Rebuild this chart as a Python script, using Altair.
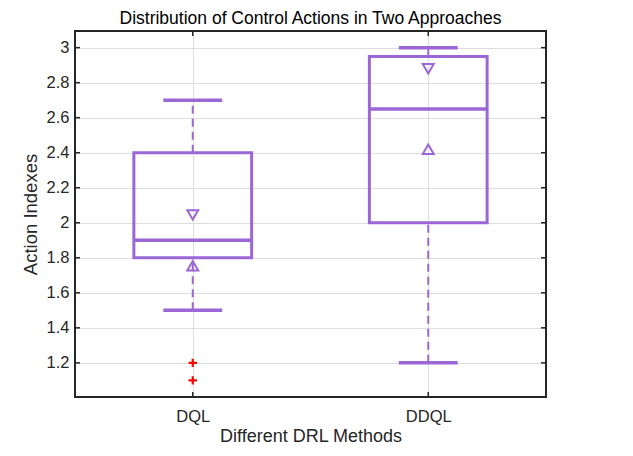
import altair as alt
import pandas as pd

# ---- data ----
categories = ["DQL", "DDQL"]
positions = [1, 2]
q1 = [1.8, 2.0]
median = [1.9, 2.65]
q3 = [2.4, 2.95]
whisker_low = [1.5, 1.2]
whisker_high = [2.7, 3.0]
notch_low = [1.755, 2.42]
notch_high = [2.045, 2.88]
outlier_cat = ["DQL", "DQL"]
outlier_val = [1.2, 1.1]
y_ticks = [1.2, 1.4, 1.6, 1.8, 2.0, 2.2, 2.4, 2.6, 2.8, 3.0]

PURPLE = "#9b67d6"
FRAME = "#262626"
FONT = "Liberation Sans"
W, H = 471, 366
BOX_HALF = 0.25
CAP_HALF = 0.125

boxes = pd.DataFrame({
    "cat": categories, "pos": positions, "q1": q1, "median": median, "q3": q3,
    "wlo": whisker_low, "whi": whisker_high, "nlo": notch_low, "nhi": notch_high,
})
boxes["xlo"] = boxes["pos"] - BOX_HALF
boxes["xhi"] = boxes["pos"] + BOX_HALF
boxes["clo"] = boxes["pos"] - CAP_HALF
boxes["chi"] = boxes["pos"] + CAP_HALF

pos_of = dict(zip(categories, positions))
outliers = pd.DataFrame({"pos": [pos_of[c] for c in outlier_cat], "val": outlier_val})
yt = pd.DataFrame({"v": y_ticks})
xt = pd.DataFrame({"p": positions})
one = pd.DataFrame({"k": [0]})

label_expr = " : ".join(
    [f"datum.value == {p} ? '{c}'" for p, c in zip(positions, categories)] + ["''"]
)

xscale = alt.Scale(domain=[0.5, 2.5], nice=False, zero=False)
yscale = alt.Scale(domain=[1.005, 3.095], nice=False, zero=False)

xaxis = alt.Axis(values=positions, labelExpr=label_expr, title="Different DRL Methods",
                 ticks=False, tickSize=0, domain=False, grid=True, labelPadding=11,
                 labelFontSize=16.5, titleFontSize=18, titlePadding=3,
                 labelColor=FRAME, titleColor=FRAME, labelFont=FONT, titleFont=FONT,
                 labelFontWeight="normal", titleFontWeight="normal")
yaxis = alt.Axis(values=y_ticks, title="Action Indexes", ticks=False, tickSize=0,
                 domain=False, grid=True, labelPadding=6, labelFontSize=16.5,
                 titleFontSize=18.5, titlePadding=6, labelColor=FRAME, titleColor=FRAME,
                 labelFont=FONT, titleFont=FONT, labelFontWeight="normal",
                 titleFontWeight="normal", labelExpr="format(datum.value, '.1~f')")

base = alt.Chart(boxes)

grid_layer = base.mark_point(opacity=0).encode(
    x=alt.X("pos:Q", scale=xscale, axis=xaxis),
    y=alt.Y("median:Q", scale=yscale, axis=yaxis),
)

whisk_lo = base.mark_rule(color=PURPLE, strokeWidth=2, strokeDash=[8, 5]).encode(
    x=alt.X("pos:Q", scale=xscale), y=alt.Y("wlo:Q", scale=yscale), y2="q1:Q")
whisk_hi = base.mark_rule(color=PURPLE, strokeWidth=2, strokeDash=[8, 5]).encode(
    x=alt.X("pos:Q", scale=xscale), y=alt.Y("q3:Q", scale=yscale), y2="whi:Q")

box = base.mark_rect(fillOpacity=0, stroke=PURPLE, strokeWidth=3).encode(
    x=alt.X("xlo:Q", scale=xscale), x2="xhi:Q",
    y=alt.Y("q1:Q", scale=yscale), y2="q3:Q")

med = base.mark_rule(color=PURPLE, strokeWidth=3.5).encode(
    x=alt.X("xlo:Q", scale=xscale), x2="xhi:Q", y=alt.Y("median:Q", scale=yscale))

cap_lo = base.mark_rule(color=PURPLE, strokeWidth=3.5).encode(
    x=alt.X("clo:Q", scale=xscale), x2="chi:Q", y=alt.Y("wlo:Q", scale=yscale))
cap_hi = base.mark_rule(color=PURPLE, strokeWidth=3.5).encode(
    x=alt.X("clo:Q", scale=xscale), x2="chi:Q", y=alt.Y("whi:Q", scale=yscale))

notch_up = base.mark_point(shape="triangle-up", filled=False, color=PURPLE,
                           strokeWidth=2, size=120, opacity=1).encode(
    x=alt.X("pos:Q", scale=xscale), y=alt.Y("nlo:Q", scale=yscale))
notch_dn = base.mark_point(shape="triangle-down", filled=False, color=PURPLE,
                           strokeWidth=2, size=120, opacity=1).encode(
    x=alt.X("pos:Q", scale=xscale), y=alt.Y("nhi:Q", scale=yscale))

outl = alt.Chart(outliers).mark_point(shape="M-1,0L1,0M0,-1L0,1", filled=False,
                                      color="#ff0000", strokeWidth=2.2, size=70,
                                      opacity=1).encode(
    x=alt.X("pos:Q", scale=xscale), y=alt.Y("val:Q", scale=yscale))

frame = alt.Chart(one).mark_rect(fillOpacity=0, stroke=FRAME, strokeWidth=2).encode(
    x=alt.value(0), x2=alt.value(W), y=alt.value(0), y2=alt.value(H))

tick_l = alt.Chart(yt).mark_rule(color=FRAME, strokeWidth=1.5).encode(
    y=alt.Y("v:Q", scale=yscale), x=alt.value(0), x2=alt.value(5))
tick_r = alt.Chart(yt).mark_rule(color=FRAME, strokeWidth=1.5).encode(
    y=alt.Y("v:Q", scale=yscale), x=alt.value(W - 5), x2=alt.value(W))
tick_b = alt.Chart(xt).mark_rule(color=FRAME, strokeWidth=1.5).encode(
    x=alt.X("p:Q", scale=xscale), y=alt.value(H - 5), y2=alt.value(H))
tick_t = alt.Chart(xt).mark_rule(color=FRAME, strokeWidth=1.5).encode(
    x=alt.X("p:Q", scale=xscale), y=alt.value(0), y2=alt.value(5))

chart = alt.layer(
    grid_layer, whisk_lo, whisk_hi, box, med, cap_lo, cap_hi,
    notch_up, notch_dn, outl, frame, tick_l, tick_r, tick_b, tick_t,
).properties(
    width=W, height=H,
    title=alt.TitleParams("Distribution of Control Actions in Two Approaches",
                          font=FONT, fontSize=17.5, fontWeight="normal",
                          color="#000000", anchor="middle", offset=3),
    autosize=alt.AutoSizeParams(type="none"),
    padding={"left": 67, "top": 23, "right": 79, "bottom": 51},
).configure_view(
    stroke=None,
).configure_axis(
    gridColor="#dedede", gridWidth=1, gridOpacity=1,
).configure(background="white")

chart.save("out.html", embed_options={"renderer": "svg", "actions": False})
